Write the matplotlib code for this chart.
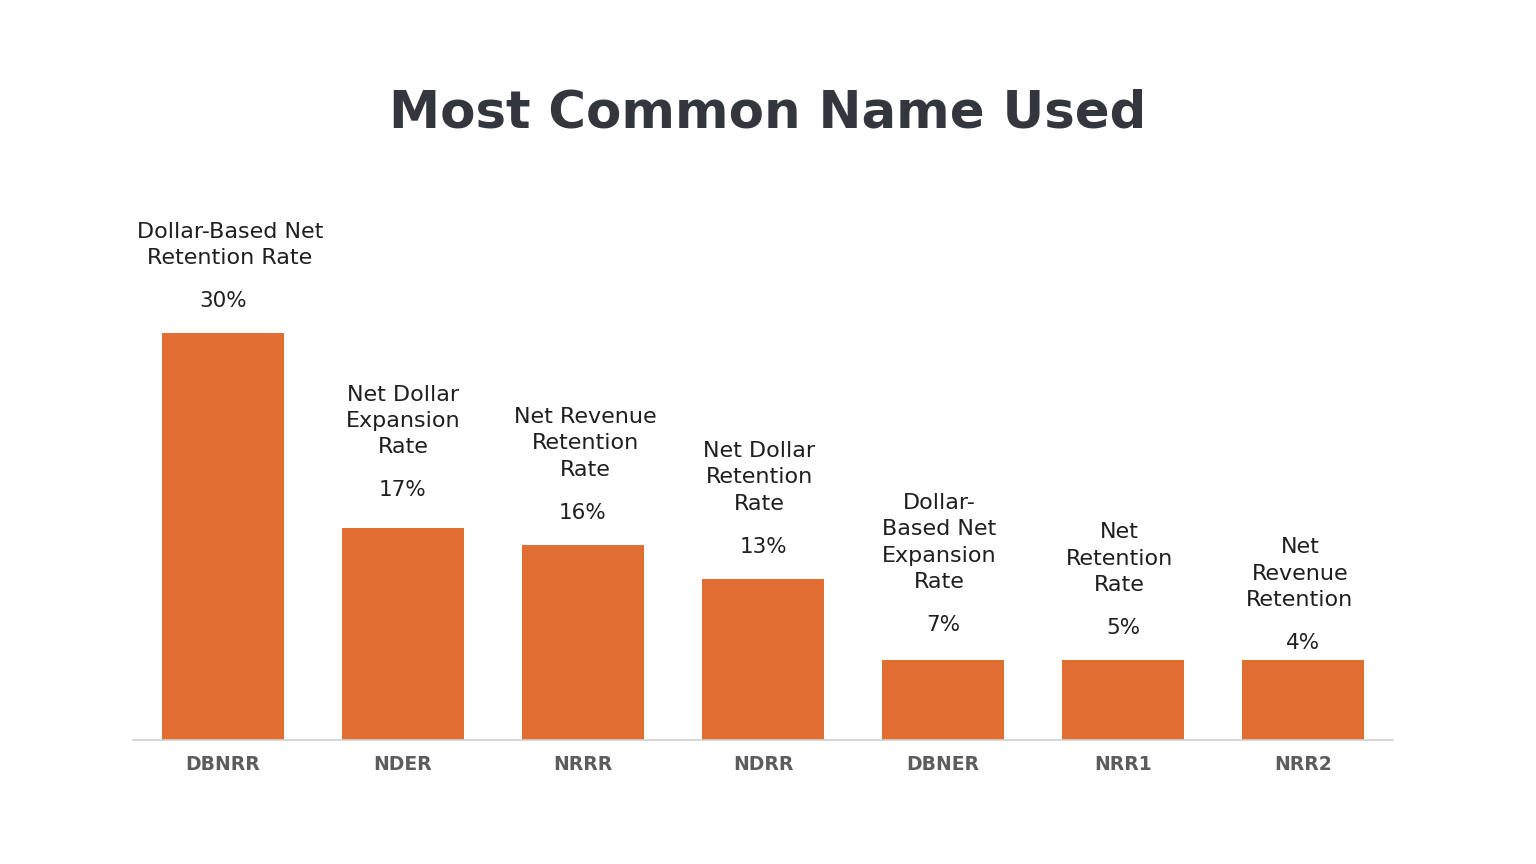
import matplotlib
matplotlib.use("Agg")
import matplotlib.pyplot as plt

# ---- data ----
codes = ["DBNRR", "NDER", "NRRR", "NDRR", "DBNER", "NRR1", "NRR2"]
names = [
    "Dollar-Based Net\nRetention Rate",
    "Net Dollar\nExpansion\nRate",
    "Net Revenue\nRetention\nRate",
    "Net Dollar\nRetention\nRate",
    "Dollar-\nBased Net\nExpansion\nRate",
    "Net\nRetention\nRate",
    "Net\nRevenue\nRetention",
]
value_labels = ["30%", "17%", "16%", "13%", "7%", "5%", "4%"]
# bar heights as drawn in the picture (percent scale)
bar_heights = [30.0, 15.6, 14.4, 11.9, 5.9, 5.9, 5.9]

# ---- styling ----
bar_color = "#E06D31"
text_color = "#1f1f1f"
title_color = "#33363d"
tick_color = "#5c5c5c"
plt.rcParams["font.family"] = ["DejaVu Sans"]

value_offsets_px = [32, 38, 32, 32, 35, 32, 17]
name_x_shift_px = [7, 0, 2, -4, -4, -4, -3]
name_gap_px = 33

W, H = 1536, 864
fig = plt.figure(figsize=(W / 100, H / 100), dpi=100)
fig.patch.set_facecolor("white")

ax_left, ax_right = 133, 1393
ax_bottom, ax_top = 740, 333
ax = fig.add_axes([ax_left / W, 1 - ax_bottom / H,
                   (ax_right - ax_left) / W, (ax_bottom - ax_top) / H])

x = list(range(len(codes)))
ax.bar(x, bar_heights, width=0.68, color=bar_color, zorder=2)
ax.set_xlim(-0.5, len(codes) - 0.5)
ax.set_ylim(0, 30)

for s in ["top", "right", "left"]:
    ax.spines[s].set_visible(False)
ax.spines["bottom"].set_color("#d0d0d0")
ax.spines["bottom"].set_linewidth(1.2)
ax.set_yticks([])
ax.set_xticks(x)
ax.set_xticklabels(codes, fontsize=13.5, fontweight="bold", color=tick_color)
ax.tick_params(axis="x", length=0, pad=11)

for i, (h, vl, nm) in enumerate(zip(bar_heights, value_labels, names)):
    off = value_offsets_px[i]
    ax.annotate(vl, (i, h), xytext=(0, off), textcoords="offset pixels",
                ha="center", va="center", fontsize=15.5, color=text_color,
                annotation_clip=False)
    ax.annotate(nm, (i, h), xytext=(name_x_shift_px[i], off + name_gap_px),
                textcoords="offset pixels",
                ha="center", va="bottom", fontsize=16, color=text_color,
                linespacing=1.4, multialignment="center", annotation_clip=False)

fig.text(0.5, 1 - 113 / H, "Most Common Name Used", ha="center", va="center",
         fontsize=37, fontweight="bold", color=title_color)

fig.savefig("out.png", dpi=100, facecolor="white")
